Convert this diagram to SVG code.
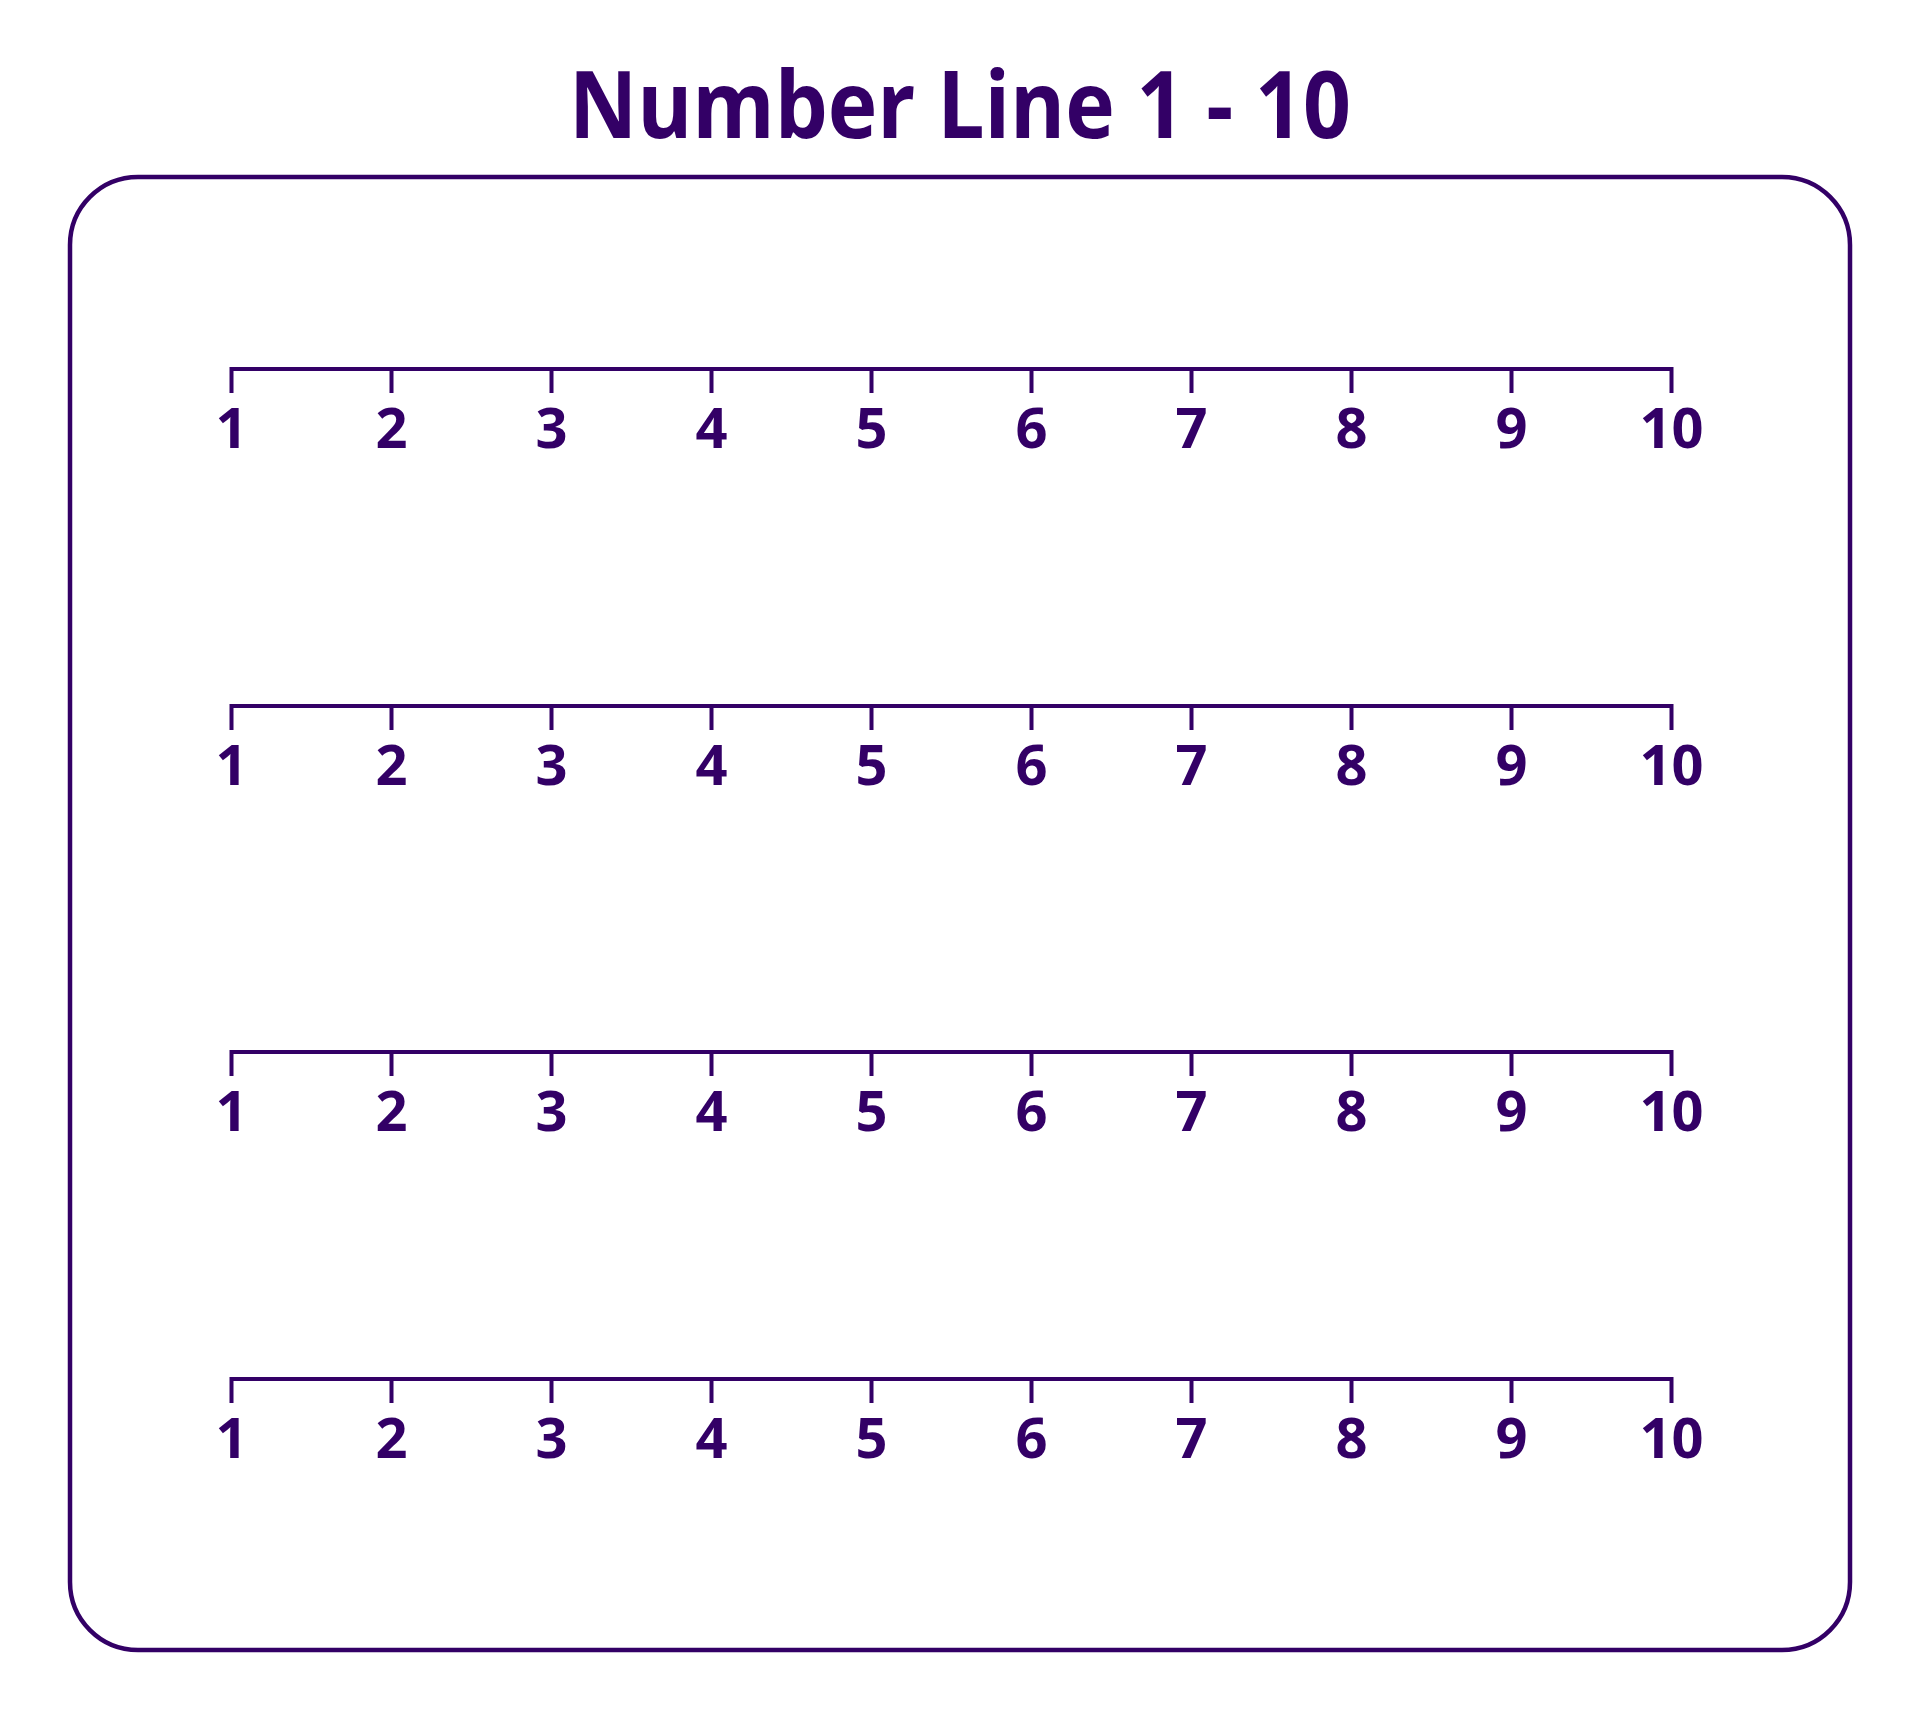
<svg xmlns="http://www.w3.org/2000/svg" width="1920" height="1718" viewBox="0 0 1920 1718">
<style>
.frame{fill:none;stroke:#330066;stroke-width:4.5}
.axis{fill:none;stroke:#330066;stroke-width:4;stroke-linecap:butt;stroke-linejoin:miter}
.num{font-family:"Open Sans","Liberation Sans",sans-serif;font-weight:700;font-size:56px;fill:#330066;text-anchor:middle}
.title{font-family:"Open Sans","Liberation Sans",sans-serif;font-weight:700;font-size:94px;fill:#330066;text-anchor:middle}
</style>
<defs>
<g id="line">
<path class="axis" d="M231.5,24 V0 H1671.5 V24 M391.5,0 V24 M551.5,0 V24 M711.5,0 V24 M871.5,0 V24 M1031.5,0 V24 M1191.5,0 V24 M1351.5,0 V24 M1511.5,0 V24"/>
<text class="num" x="231.5" y="79">1</text>
<text class="num" x="391.5" y="79">2</text>
<text class="num" x="551.5" y="79">3</text>
<text class="num" x="711.5" y="79">4</text>
<text class="num" x="871.5" y="79">5</text>
<text class="num" x="1031.5" y="79">6</text>
<text class="num" x="1191.5" y="79">7</text>
<text class="num" x="1351.5" y="79">8</text>
<text class="num" x="1511.5" y="79">9</text>
<text class="num" x="1671.5" y="79">10</text>
</g>
</defs>
<rect width="1920" height="1718" fill="#ffffff"/>
<text class="title" x="960" y="138" textLength="782" lengthAdjust="spacingAndGlyphs">Number Line 1 - 10</text>
<g id="frame"><rect class="frame" x="70" y="177" width="1780" height="1473" rx="68" ry="68"/></g>
<g id="line1"><use href="#line" x="0" y="369"/></g>
<g id="line2"><use href="#line" x="0" y="706"/></g>
<g id="line3"><use href="#line" x="0" y="1052"/></g>
<g id="line4"><use href="#line" x="0" y="1379"/></g>
</svg>
